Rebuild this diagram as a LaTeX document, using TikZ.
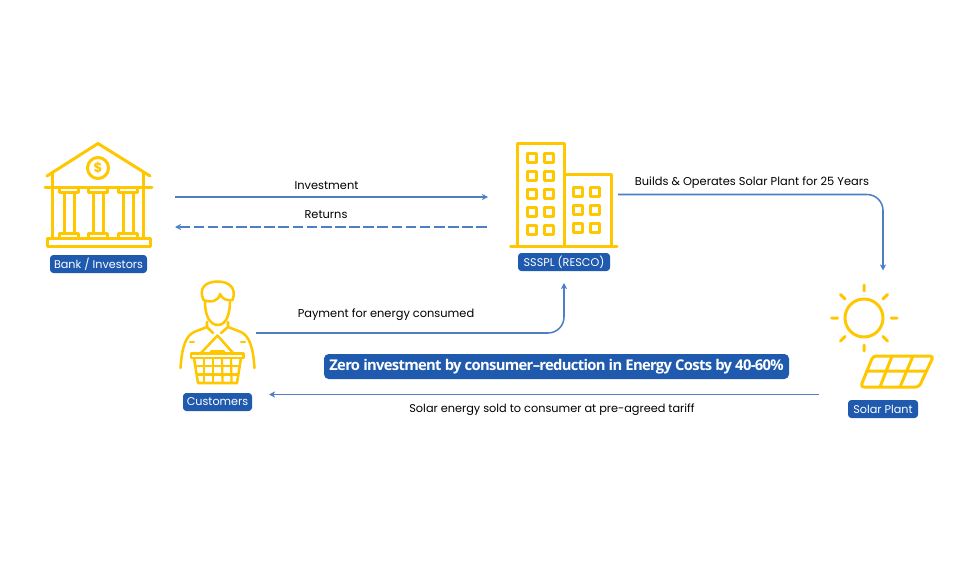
\documentclass[tikz,border=0pt]{standalone}
\usepackage{fontspec}
\setmainfont{Poppins}
\newfontfamily\bannerfont{Open Sans}[LetterSpace=-4.7,BoldFont={Open Sans Bold},BoldFeatures={LetterSpace=-4.7}]
\usetikzlibrary{arrows.meta}
\definecolor{sunY}{HTML}{FFC700}
\definecolor{flowB}{HTML}{4E7FC4}
\definecolor{tagB}{HTML}{1F5AAE}
\tikzset{
 icon/.style={draw=sunY,line width=2.25pt,line join=round,line cap=round},
 thin icon/.style={draw=sunY,line width=1.9pt,line join=round,line cap=round},
 tag/.style={fill=tagB,rounded corners=2.5pt,text=white,font=\fontsize{8.4}{10}\selectfont,inner sep=0pt,anchor=center},
 flow/.style={draw=flowB,line width=1.15pt,-{Stealth[length=4.5pt,width=4.5pt,inset=1.2pt]}},
 lbl/.style={text=black,font=\fontsize{8.55}{10}\selectfont,inner sep=0pt,anchor=center},
}
\begin{document}
\begin{tikzpicture}[x=0.75pt,y=-0.75pt]
\useasboundingbox (0,0) rectangle (980,560);
% Bank
\draw[icon] (47,176) -- (98,143.5) -- (150,176);
\draw[icon] (52,172) -- (52,238) (143.5,172) -- (143.5,238);
\draw[icon] (47,238.5) rectangle (150,246);
\draw[icon] (98,168) circle (10.5);
\node[inner sep=0pt,text=sunY,font=\fontsize{10}{10}\selectfont\bfseries] (dollar) at (98,168) {\$};
\foreach \c in {69,98,128}{
 \draw[icon] (\c-9.5,187.5) -- (\c-9.5,192.5) -- (\c+9.5,192.5) -- (\c+9.5,187.5);
 \draw[icon] (\c-5,192.5) -- (\c-5,233) (\c+5,192.5) -- (\c+5,233);
 \draw[icon] (\c-9.5,238.5) -- (\c-9.5,233) -- (\c+9.5,233) -- (\c+9.5,238.5);
}
\draw[icon] (45,187.5) -- (152,187.5);
% Building
\draw[icon] (517,246) -- (517,143) -- (564,143) -- (564,246);
\draw[icon] (564,174) -- (611,174) -- (611,246);
\draw[icon] (510.5,246) -- (617,246);
\foreach \x in {532,549}\foreach \y in {158,176,194,212,230}
 \draw[icon,line width=2.3pt] (\x-4.2,\y-4.2) rectangle (\x+4.2,\y+4.2);
\foreach \x in {578,595}\foreach \y in {192,210,228}
 \draw[icon,line width=2.3pt] (\x-4.2,\y-4.2) rectangle (\x+4.2,\y+4.2);
% Customer
\draw[thin icon] (205,302) .. controls (205,314) and (209,325) .. (218,325) .. controls (226,325) and (230,314) .. (230,302);
\draw[thin icon] (203.5,300) .. controls (198,288) and (206,281.5) .. (217.5,281.5) .. controls (229,281.5) and (237,288) .. (232.5,300);
\draw[thin icon] (203.5,300) .. controls (211,303) and (219,301) .. (220,294) .. controls (222,299) and (227,301) .. (232.5,300);
\draw[thin icon] (207,322) -- (207,327) -- (213,333);
\draw[thin icon] (228,322) -- (228,327) -- (221,333);
\draw[thin icon] (207,327) -- (194,332) .. controls (186,336) and (182,346) .. (180.5,368);
\draw[thin icon] (228,327) -- (241,332) .. controls (249,336) and (253,346) .. (254.5,368);
\draw[thin icon] (190,342) -- (194,342) (241,342) -- (245,342);
\draw[thin icon] (201,353) -- (217.5,335.5) -- (233,353);
\draw[thin icon] (211,351.5) -- (224,351.5);
\draw[thin icon] (191,353.5) -- (243.5,353.5) -- (243.5,358) -- (191,358) -- cycle;
\draw[thin icon] (194,358) -- (198,383) -- (237,383) -- (241,358);
\draw[thin icon,line width=1.7pt] (195,366) -- (239.5,366) (197,374.5) -- (238,374.5);
\foreach \a/\b in {204/204,213/213,222/222.5,231/231.5}
 \draw[thin icon,line width=1.7pt] (\a,358) -- (\b,383);
% Sun and panel
\draw[icon] (864,318) circle (19);
\draw[icon] (864,285) -- (864,291) (864,345) -- (864,351)
 (831.5,318) -- (837.5,318) (891,318) -- (897,318)
 (840.5,294.5) -- (845,299) (887.5,294.5) -- (883,299)
 (840.5,341) -- (845,336.5) (887.5,341) -- (883,336.5);
\draw[icon,rounded corners=2.5pt] (873,356) -- (933.5,356) -- (919,387) -- (860.5,387) -- cycle;
\draw[icon] (866.5,371) -- (926.5,371) (892,356) -- (880,387) (913,356) -- (900,387);
% Tags
\node[tag,minimum width=97pt*0.75,minimum height=18pt*0.75] (bank) at (98.5,264) {Bank / Investors};
\node[tag,minimum width=92pt*0.75,minimum height=18pt*0.75] (rescoTag) at (564,262) {SSSPL (RESCO)};
\node[tag,minimum width=69pt*0.75,minimum height=18pt*0.75] (custTag) at (217.5,402) {\raisebox{-0.6pt}{Customers}};
\node[tag,minimum width=70pt*0.75,minimum height=18pt*0.75] (plantTag) at (883,409) {Solar Plant};
\node[fill=tagB,rounded corners=3.5pt,text=white,inner sep=0pt,minimum width=465pt*0.75,minimum height=25pt*0.75,font=\bannerfont\fontsize{11.1}{14}\selectfont\bfseries] (banner) at (556.5,366.5) {\raisebox{-1.1pt}{Zero investment by consumer–reduction in Energy Costs by 40-60\%}};
% Connector ends
\coordinate (bankOut) at (175,197);
\coordinate (rescoIn) at (488,197);
\coordinate (rescoOut) at (487,227);
\coordinate (bankIn) at (175,227);
\coordinate (buildStart) at (618,194.5);
\coordinate (plantIn) at (883,270.5);
\coordinate (custOut) at (256,333);
\coordinate (rescoPay) at (564,283);
\coordinate (plantOut) at (819,394.5);
\coordinate (custIn) at (269,394.5);
% Connectors
\draw[flow] (bankOut) -- (rescoIn);
\draw[flow,dashed,dash pattern=on 8pt off 2.6pt] (rescoOut) -- (bankIn);
\draw[flow,rounded corners=12pt] (buildStart) -| (plantIn);
\draw[flow,rounded corners=12pt] (custOut) -| (rescoPay);
\draw[flow] (plantOut) -- (custIn);
% Labels
\node[lbl] (l1) at (326.5,186) {Investment};
\node[lbl] (l2) at (326,215) {Returns};
\node[lbl] (l3) at (752,183) {Builds \& Operates Solar Plant for 25 Years};
\node[lbl] (l4) at (386,315) {Payment for energy consumed};
\node[lbl,font=\fontsize{8.47}{10}\selectfont] (l5) at (552,410) {Solar energy sold to consumer at pre-agreed tariff};
\end{tikzpicture}
\end{document}
